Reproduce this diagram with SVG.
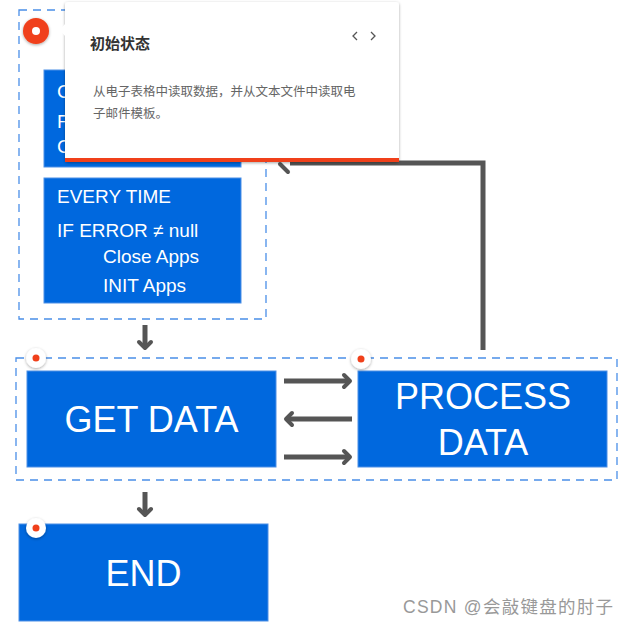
<svg xmlns="http://www.w3.org/2000/svg" width="629" height="626" viewBox="0 0 629 626">
<defs>
<style>
.box{fill:#0068de;stroke:#4d8fe6;stroke-width:1}
.dash{fill:none;stroke:#4a8fe8;stroke-width:1.3;stroke-dasharray:8,6}
.t{font-family:"Liberation Sans",Arial,sans-serif;fill:#fff}
.con{stroke:#555;stroke-width:5;fill:none}
.hd{stroke:#555;stroke-width:4;fill:none;stroke-linecap:round;stroke-linejoin:round}
.dot{fill:#fff;filter:url(#sh)}
</style>
<filter id="sh" x="-50%" y="-50%" width="200%" height="200%"><feDropShadow dx="0" dy="1" stdDeviation="1.5" flood-opacity="0.35"/></filter>
</defs>
<rect width="629" height="626" fill="#fff"/>
<g id="group1">
<rect class="dash" x="19" y="10" width="247" height="309"/>
</g>
<g id="group2">
<rect class="dash" x="16" y="358" width="601" height="122"/>
</g>
<g id="connectors">
<path class="con" d="M145 325V348"/><path class="hd" d="M139 342l6 6 6-6"/>
<path class="con" d="M145 492V515"/><path class="hd" d="M139 509l6 6 6-6"/>
<path class="con" d="M284 381H350"/><path class="hd" d="M344 375l6 6-6 6"/>
<path class="con" d="M352 419H286"/><path class="hd" d="M292 413l-6 6 6 6"/>
<path class="con" d="M284 457H350"/><path class="hd" d="M344 451l6 6-6 6"/>
<path class="con" d="M483 350V163H290"/><path class="hd" d="M280 164l8 8"/>
</g>
<g id="init">
<rect class="box" x="44" y="70" width="197" height="97"/>
<text class="t" x="57" y="98" font-size="19">C</text>
<text class="t" x="57" y="128" font-size="19">F</text>
<text class="t" x="57" y="153" font-size="19">C</text>
</g>
<g id="everytime">
<rect class="box" x="44" y="178" width="197" height="125"/>
<text class="t" x="57" y="203" font-size="19">EVERY TIME</text>
<text class="t" x="57" y="237" font-size="19">IF ERROR ≠ null</text>
<text class="t" x="103" y="263" font-size="19">Close Apps</text>
<text class="t" x="103" y="292" font-size="19">INIT Apps</text>
</g>
<g id="getdata">
<rect class="box" x="27" y="371" width="249" height="96"/>
<text class="t" x="151.5" y="432" font-size="36" text-anchor="middle">GET DATA</text>
</g>
<g id="processdata">
<rect class="box" x="358" y="371" width="249" height="96"/>
<text class="t" x="483" y="409" font-size="36" text-anchor="middle">PROCESS</text>
<text class="t" x="483" y="455" font-size="36" text-anchor="middle">DATA</text>
</g>
<g id="end">
<rect class="box" x="19" y="524" width="249" height="97"/>
<text class="t" x="143.5" y="586" font-size="36" text-anchor="middle">END</text>
</g>
<g id="markers">
<circle cx="36" cy="358" r="10" class="dot"/><circle cx="36" cy="358" r="3.5" fill="#f0401a"/>
<circle cx="361" cy="359" r="10" class="dot"/><circle cx="361" cy="359" r="3.5" fill="#f0401a"/>
<circle cx="36" cy="528" r="10" class="dot"/><circle cx="36" cy="528" r="3.5" fill="#f0401a"/>
</g>
<g id="popup">
<circle cx="36" cy="31" r="13" fill="#f0401a" filter="url(#sh)"/>
<circle cx="36" cy="31" r="4" fill="#fff"/>
<rect x="65" y="2" width="334" height="160" rx="3" fill="#fff" filter="url(#sh)"/>
<path d="M65 24l-5 6 5 6z" fill="#fff"/>
<rect x="65" y="158" width="334" height="4" fill="#f0401a"/>
<text x="90" y="49" font-size="15" font-weight="bold" fill="#333" font-family="'Noto Sans CJK SC',sans-serif">初始状态</text>
<path d="M357 32l-4 4 4 4M371 32l4 4-4 4" stroke="#555" stroke-width="1.3" fill="none"/>
<text x="93" y="96" font-size="12.5" fill="#666" font-family="'Noto Sans CJK SC',sans-serif">从电子表格中读取数据，并从文本文件中读取电</text>
<text x="93" y="118" font-size="12.5" fill="#666" font-family="'Noto Sans CJK SC',sans-serif">子邮件模板。</text>
</g>
<text x="403" y="613" font-size="17.5" fill="#999" font-family="'Liberation Sans','Noto Sans CJK SC',sans-serif" textLength="210">CSDN @会敲键盘的肘子</text>
</svg>
